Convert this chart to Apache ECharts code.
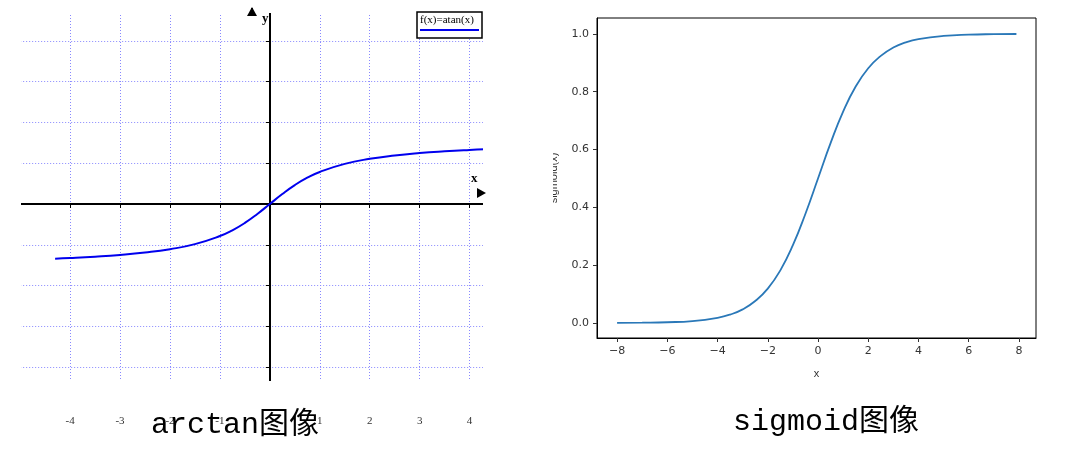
<!DOCTYPE html>
<html><head><meta charset="utf-8">
<script src="https://cdn.jsdelivr.net/npm/echarts@6/dist/echarts.min.js"></script>
<style>html,body{margin:0;padding:0;background:#fff}#c{width:1072px;height:462px}</style>
</head><body><div id="c"></div>
<script>
const atanX = [-4.3,-4,-3.5,-3,-2.5,-2,-1.5,-1,-0.75,-0.5,-0.25,0,0.25,0.5,0.75,1,1.5,2,2.5,3,3.5,4,4.3];
const atanY = [-1.342,-1.326,-1.292,-1.249,-1.190,-1.107,-0.983,-0.785,-0.644,-0.464,-0.245,0,0.245,0.464,0.644,0.785,0.983,1.107,1.190,1.249,1.292,1.326,1.342];
const sigX = [-8,-7,-6,-5,-4,-3.5,-3,-2.5,-2,-1.5,-1,-0.5,0,0.5,1,1.5,2,2.5,3,3.5,4,5,6,7,7.9];
const sigY = [0.0003,0.0009,0.0025,0.0067,0.018,0.029,0.047,0.076,0.119,0.182,0.269,0.378,0.5,0.622,0.731,0.818,0.881,0.924,0.953,0.971,0.982,0.993,0.9975,0.9991,0.9996];
const leftTicks = [-4,-3,-2,-1,1,2,3,4];
const sigXTicks = [-8,-6,-4,-2,0,2,4,6,8];
const sigYTicks = [0,0.2,0.4,0.6,0.8,1.0];
const titles = ['arctan图像','sigmoid图像'];
const legendName = 'f(x)=atan(x)';

const grid = [{left:-15.5,right:552.5,top:-22,bottom:54},{left:597,right:36,top:18,bottom:124}];
const dot = {show:true,lineStyle:{color:'#8888ff',type:[1,2],width:1}};
const serif = 'Liberation Serif';
const chart = echarts.init(document.getElementById('c'));
chart.setOption({
  animation:false,
  grid,
  xAxis:[
    {gridIndex:0,type:'value',min:-5,max:5,interval:1,
     axisLine:{onZero:true,lineStyle:{color:'#000',width:2}},
     axisTick:{show:true,length:4,lineStyle:{color:'#000'}},
     axisLabel:{color:'#333',fontFamily:serif,fontSize:11,
       formatter:v=>leftTicks.includes(v)?String(v):''},
     splitLine:dot},
    {gridIndex:1,type:'value',min:-8.8,max:8.68,
     axisLine:{onZero:false,lineStyle:{color:'#000'}},
     axisTick:{length:4,lineStyle:{color:'#333'},customValues:sigXTicks},
     axisLabel:{color:'#333',fontSize:11,fontFamily:'DejaVu Sans',customValues:sigXTicks,
       formatter:v=>String(v).replace('-','−')},
     splitLine:{show:false},name:'x',nameLocation:'middle',nameGap:30,nameTextStyle:{color:'#333',fontSize:11}}
  ],
  yAxis:[
    {gridIndex:0,type:'value',min:-5,max:5,interval:1,
     axisLine:{onZero:true,lineStyle:{color:'#000',width:2}},
     axisTick:{show:true,length:4,lineStyle:{color:'#000'}},
     axisLabel:{color:'#333',fontFamily:serif,fontSize:11,
       formatter:v=>leftTicks.includes(v)?String(v):''},
     splitLine:dot},
    {gridIndex:1,type:'value',min:-0.052,max:1.055,
     axisLine:{onZero:false,show:true,lineStyle:{color:'#000'}},
     axisTick:{length:4,lineStyle:{color:'#333'},customValues:sigYTicks},
     axisLabel:{color:'#333',fontSize:11,fontFamily:'DejaVu Sans',customValues:sigYTicks,
       formatter:v=>v.toFixed(1)},
     splitLine:{show:false},name:'sigmoid(x)',nameLocation:'middle',nameGap:38,nameTextStyle:{color:'#333',fontSize:11}}
  ],
  series:[
    {type:'line',xAxisIndex:0,yAxisIndex:0,data:atanX.map((x,i)=>[x,atanY[i]]),smooth:true,showSymbol:false,
     lineStyle:{color:'#0000ee',width:2}},
    {type:'line',xAxisIndex:1,yAxisIndex:1,data:sigX.map((x,i)=>[x,sigY[i]]),smooth:true,showSymbol:false,
     lineStyle:{color:'#2a78b8',width:1.8}}
  ],
  graphic:[
    {type:'rect',shape:{x:483,y:0,width:70,height:400},style:{fill:'#fff'},z:50},
    {type:'rect',shape:{x:0,y:0,width:21,height:400},style:{fill:'#fff'},z:50},
    {type:'rect',shape:{x:0,y:381,width:520,height:30},style:{fill:'#fff'},z:50},
    {type:'rect',shape:{x:0,y:0,width:483,height:13},style:{fill:'#fff'},z:50},
    {type:'rect',shape:{x:253,y:0,width:4,height:13},style:{fill:'#fff'},z:50},
    {type:'line',shape:{x1:252,y1:8,x2:252,y2:14},style:{stroke:'#000',lineWidth:2},z:51},
    {type:'polygon',shape:{points:[[252,7],[247,16],[257,16]]},style:{fill:'#000'},z:51},
    {type:'polygon',shape:{points:[[486,193],[477,188],[477,198]]},style:{fill:'#000'},z:51},
    {type:'text',x:262,y:12,style:{text:'y',font:'bold 13px "Liberation Serif"',fill:'#000'},z:51},
    {type:'text',x:471,y:172,style:{text:'x',font:'bold 13px "Liberation Serif"',fill:'#000'},z:51},
    {type:'rect',shape:{x:597,y:18,width:439,height:320},style:{fill:'none',stroke:'#000',lineWidth:1},silent:true},
    {type:'rect',shape:{x:417,y:12,width:65,height:26},style:{fill:'#fff',stroke:'#000',lineWidth:1.5},z:60},
    {type:'text',x:420,y:15,style:{text:legendName,font:'11px "Liberation Serif"',fill:'#000'},z:61},
    {type:'line',shape:{x1:420,y1:30,x2:479,y2:30},style:{stroke:'#0000ee',lineWidth:2},z:61},
    {type:'text',x:235,y:425,style:{text:titles[0],font:'30px "Liberation Mono","Noto Sans CJK SC"',fill:'#000',align:'center',verticalAlign:'middle'},z:61},
    {type:'text',x:826,y:422,style:{text:titles[1],font:'30px "Liberation Mono","Noto Sans CJK SC"',fill:'#000',align:'center',verticalAlign:'middle'},z:61}
  ]
});
</script></body></html>
